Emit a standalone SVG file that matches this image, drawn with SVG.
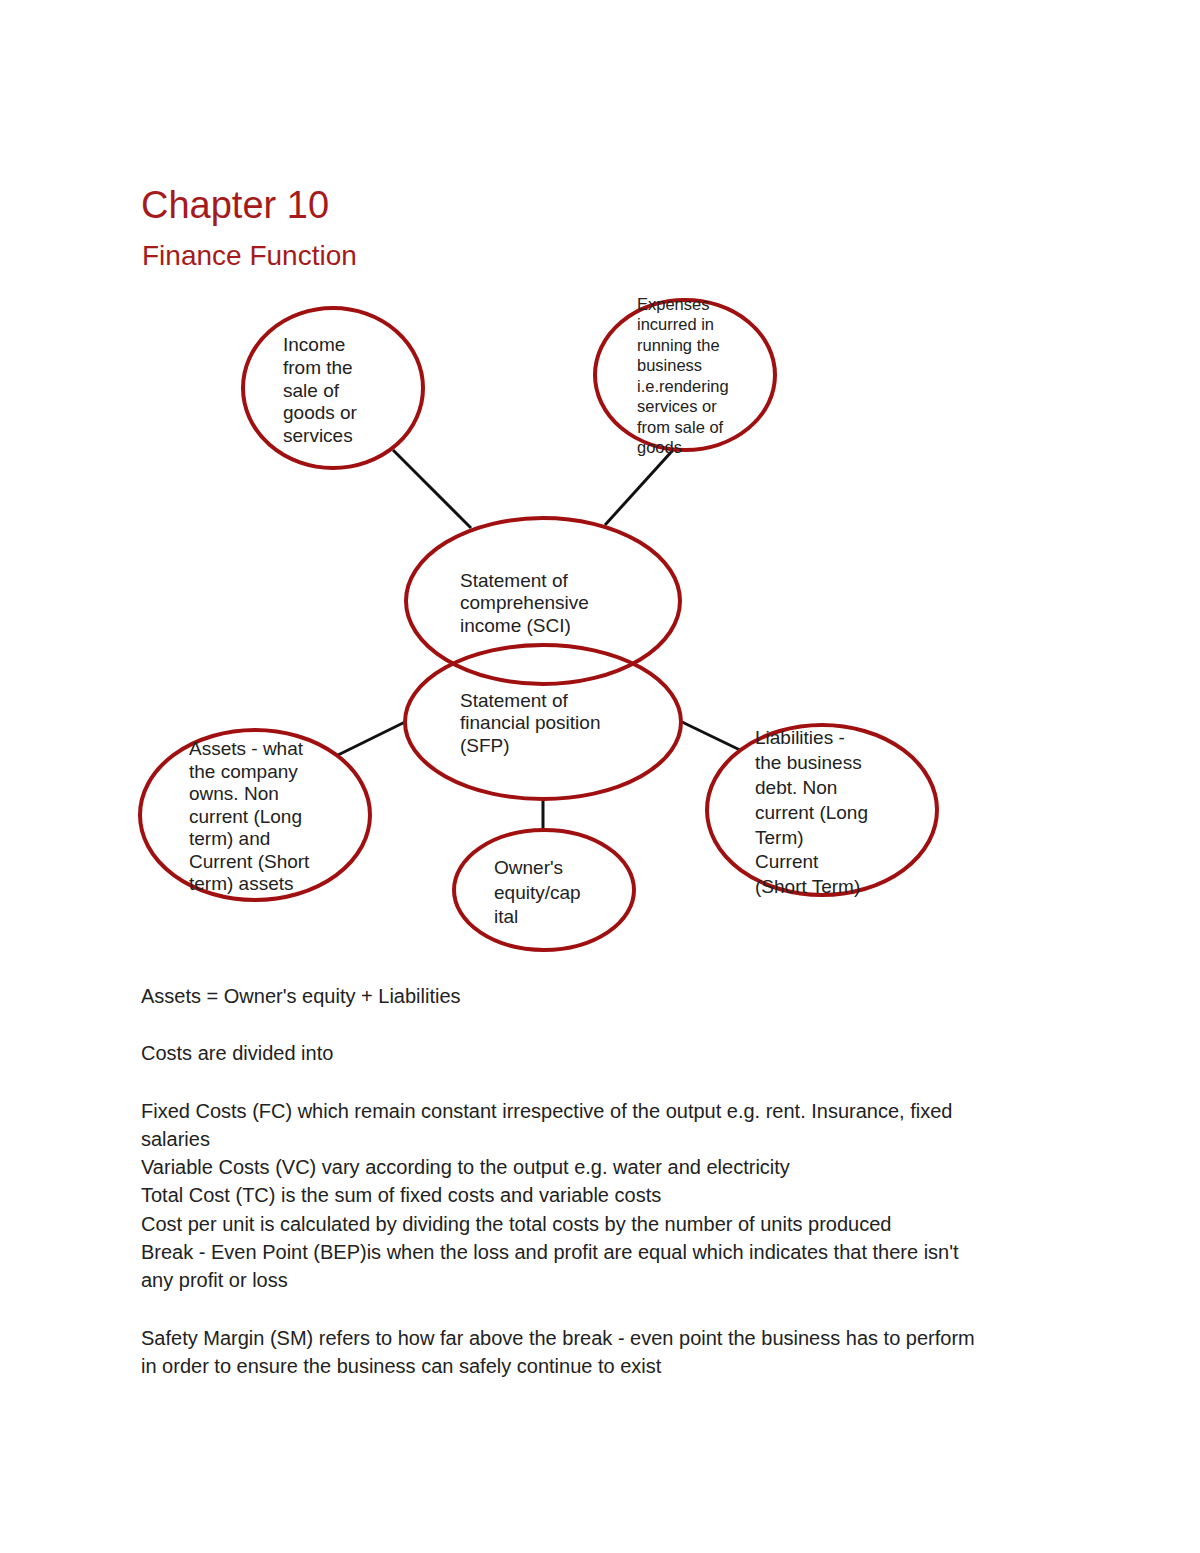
<svg xmlns="http://www.w3.org/2000/svg" width="1200" height="1553" viewBox="0 0 1200 1553">
<style>
.n{fill:none;stroke:#a01010;stroke-width:4}
.t{font-family:"Liberation Sans",Arial,sans-serif;font-size:19px;fill:#222}
.s{font-family:"Liberation Sans",Arial,sans-serif;font-size:16.5px;fill:#222}
.b{font-family:"Liberation Sans",Arial,sans-serif;font-size:20px;fill:#222}
.h{font-family:"Liberation Sans",Arial,sans-serif;fill:#a51b1b}
line{stroke:#111;stroke-width:3}
</style>
<rect width="1200" height="1553" fill="#fff"/>
<text class="h" x="141" y="218" font-size="38">Chapter 10</text>
<text class="h" x="142" y="265" font-size="28">Finance Function</text>
<g id="connectors">
<line x1="393" y1="450" x2="471" y2="528"/>
<line x1="673" y1="450" x2="605" y2="525"/>
<line x1="338" y1="755" x2="405" y2="722"/>
<line x1="682" y1="722" x2="740" y2="750"/>
<line x1="543" y1="800" x2="543" y2="830"/>
</g>
<g id="income"><ellipse class="n" cx="333" cy="388" rx="90" ry="80"/>
<text class="t"><tspan x="283" y="351">Income</tspan><tspan x="283" y="374">from the</tspan><tspan x="283" y="397">sale of</tspan><tspan x="283" y="419">goods or</tspan><tspan x="283" y="442">services</tspan></text></g>
<g id="expenses"><ellipse class="n" cx="685" cy="375" rx="90" ry="75"/>
<text class="s"><tspan x="637" y="310">Expenses</tspan><tspan x="637" y="330">incurred in</tspan><tspan x="637" y="351">running the</tspan><tspan x="637" y="371">business</tspan><tspan x="637" y="392">i.e.rendering</tspan><tspan x="637" y="412">services or</tspan><tspan x="637" y="433">from sale of</tspan><tspan x="637" y="453">goods</tspan></text></g>
<g id="sci"><ellipse class="n" cx="543" cy="601" rx="137" ry="83"/>
<text class="t"><tspan x="460" y="587">Statement of</tspan><tspan x="460" y="609">comprehensive</tspan><tspan x="460" y="632">income (SCI)</tspan></text></g>
<g id="sfp"><ellipse class="n" cx="543" cy="722" rx="138" ry="77"/>
<text class="t"><tspan x="460" y="707">Statement of</tspan><tspan x="460" y="729">financial position</tspan><tspan x="460" y="752">(SFP)</tspan></text></g>
<g id="assets"><ellipse class="n" cx="255" cy="815" rx="115" ry="85"/>
<text class="t"><tspan x="189" y="755">Assets - what</tspan><tspan x="189" y="778">the company</tspan><tspan x="189" y="800">owns. Non</tspan><tspan x="189" y="823">current (Long</tspan><tspan x="189" y="845">term) and</tspan><tspan x="189" y="868">Current  (Short</tspan><tspan x="189" y="890">term) assets</tspan></text></g>
<g id="owner"><ellipse class="n" cx="544" cy="890" rx="90" ry="60"/>
<text class="t"><tspan x="494" y="874">Owner's</tspan><tspan x="494" y="899">equity/cap</tspan><tspan x="494" y="923">ital</tspan></text></g>
<g id="liabilities"><ellipse class="n" cx="822" cy="810" rx="115" ry="85"/>
<text class="t" font-size="20"><tspan x="755" y="744">Liabilities -</tspan><tspan x="755" y="769">the business</tspan><tspan x="755" y="794">debt. Non</tspan><tspan x="755" y="819">current (Long</tspan><tspan x="755" y="844">Term)</tspan><tspan x="755" y="868">Current</tspan><tspan x="755" y="893">(Short Term)</tspan></text></g>
<g id="body" class="b">
<text x="141" y="1003">Assets = Owner's equity + Liabilities</text>
<text x="141" y="1060">Costs are divided into</text>
<text x="141" y="1118">Fixed Costs (FC) which remain constant irrespective of the output e.g. rent. Insurance, fixed</text>
<text x="141" y="1146">salaries</text>
<text x="141" y="1174">Variable Costs (VC) vary according to the output e.g. water and electricity</text>
<text x="141" y="1202">Total Cost (TC) is the sum of fixed costs and variable costs</text>
<text x="141" y="1231">Cost per unit is calculated by dividing the total costs by the number of units produced</text>
<text x="141" y="1259">Break - Even Point  (BEP)is when the loss and profit are equal which indicates that there isn't</text>
<text x="141" y="1287">any profit or loss</text>
<text x="141" y="1345">Safety Margin (SM) refers to how far above the break - even point the business has to perform</text>
<text x="141" y="1373">in order to ensure the business can safely continue to exist</text>
</g>
</svg>
